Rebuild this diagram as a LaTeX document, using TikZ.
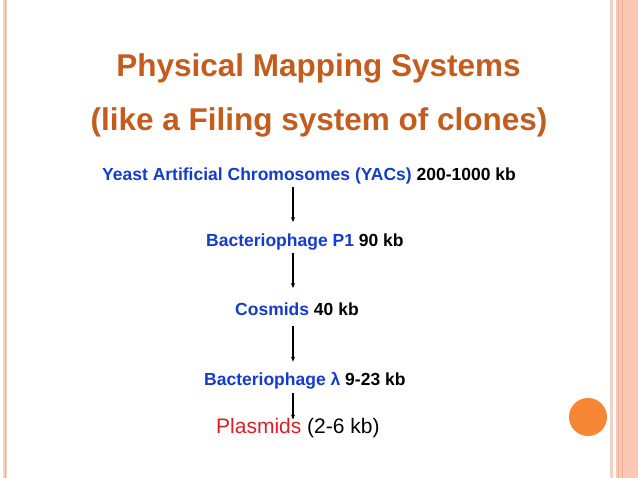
\documentclass[tikz,border=0pt]{standalone}
\usepackage{fontspec}
\setmainfont{Liberation Sans}
\usepackage{xcolor}
\usetikzlibrary{arrows.meta,positioning}
\definecolor{titleorange}{RGB}{196,92,30}
\definecolor{itemblue}{RGB}{20,60,205}
\definecolor{plasmidred}{RGB}{222,30,36}
\definecolor{bandpeach}{RGB}{252,200,180}
\definecolor{bandline}{RGB}{238,176,152}
\definecolor{stripepink}{RGB}{246,208,194}
\definecolor{dotorange}{RGB}{247,134,52}

\begin{document}
\begin{tikzpicture}[x=1pt, y=-1pt,
    title/.style={font=\fontsize{31.5}{36}\selectfont\bfseries, text=titleorange, inner sep=0pt, anchor=base},
    item/.style={font=\fontsize{17.5}{20}\selectfont\bfseries, inner sep=0pt, anchor=base west},
    arrow/.style={-{Stealth[length=5pt, width=4pt]}, line width=1.2pt, black}
]
\useasboundingbox (0,0) rectangle (638,478);
\fill[white] (0,0) rectangle (638,478);
% side bands of the slide
\fill[stripepink] (2.8,0) rectangle (6.8,478);
\draw[bandline, line width=0.6pt] (4.8,0) -- (4.8,478);
\fill[stripepink] (610,0) rectangle (612.7,478);
\fill[bandpeach] (616,0) rectangle (638,478);
\draw[bandline, line width=1pt] (618.2,0) -- (618.2,478);
\draw[bandline, line width=0.8pt] (622.4,0) -- (622.4,478);
\fill[dotorange] (588,417) circle (19);
% title
\node[title] (title1) at (318.5,77) {Physical Mapping Systems};
\node[title] (title2) at (319,131) {(like a Filing system of clones)};
% vectors, largest insert first
\node[item] (yac) at (102,181) {\textcolor{itemblue}{Yeast Artificial Chromosomes (YACs)} 200-1000 kb};
\node[item] (pone) at (206,247) {\textcolor{itemblue}{Bacteriophage P1} 90 kb};
\node[item] (cosmid) at (235,316) {\textcolor{itemblue}{Cosmids} 40 kb};
\node[item] (lambda) at (204,386) {\textcolor{itemblue}{Bacteriophage λ} 9-23 kb};
\node[font=\fontsize{21}{24}\selectfont, inner sep=0pt, anchor=base west] (plasmid) at (216,434) {\textcolor{plasmidred}{Plasmids} (2-6 kb)};
% arrows
\coordinate (ax) at (293,0);
\draw[arrow] ([yshift=-2pt]yac.south -| ax) -- ([yshift=12pt]pone.north -| ax);
\draw[arrow] ([yshift=-2pt]pone.south -| ax) -- ([yshift=15pt]cosmid.north -| ax);
\draw[arrow] ([yshift=-10pt]cosmid.south -| ax) -- ([yshift=11pt]lambda.north -| ax);
\draw[arrow] ([yshift=-3pt]lambda.south -| ax) -- ([yshift=-1pt]plasmid.north -| ax);
\end{tikzpicture}
\end{document}
